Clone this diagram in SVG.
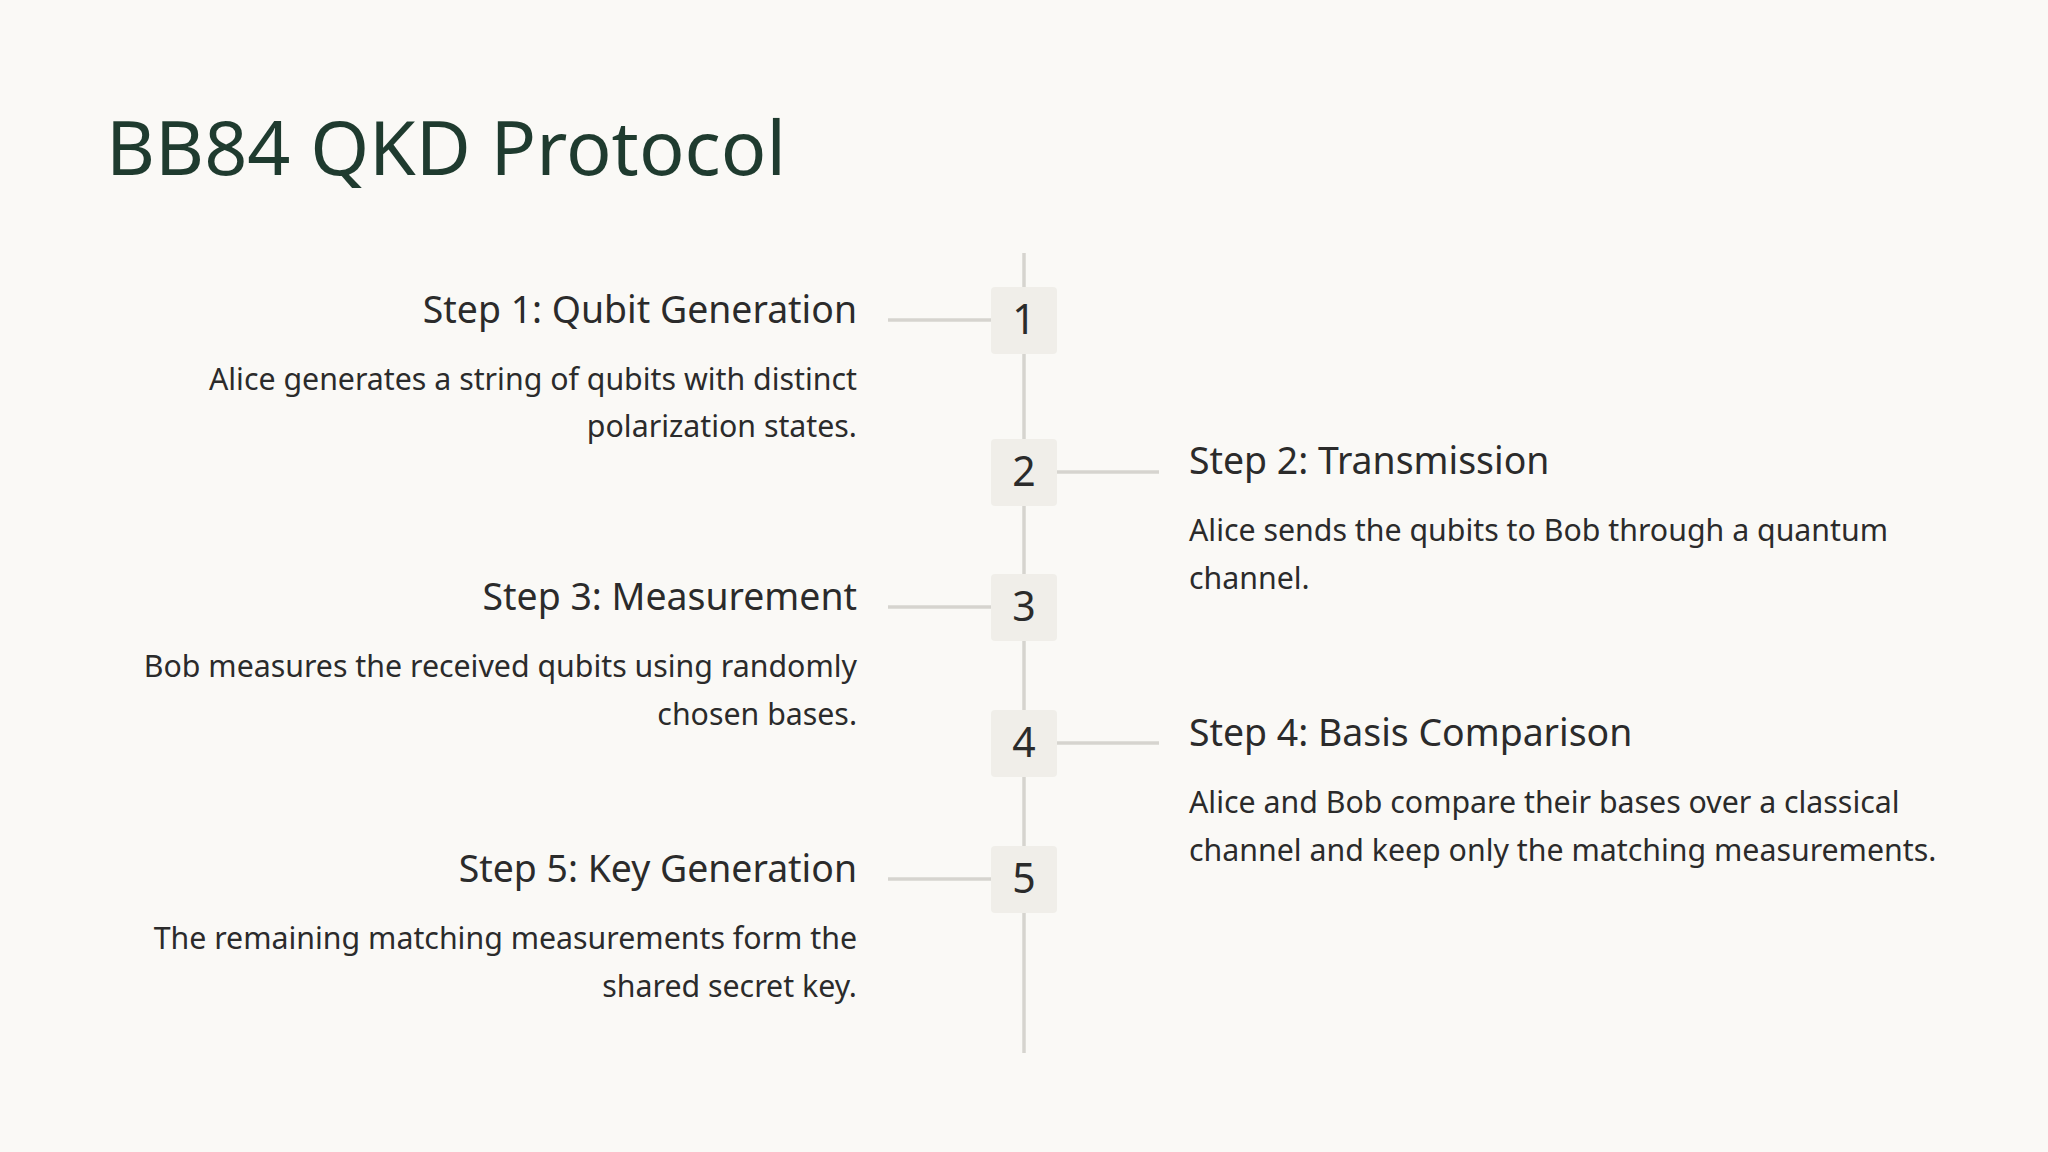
<svg xmlns="http://www.w3.org/2000/svg" width="2048" height="1152" viewBox="0 0 2048 1152">
  <style>
    .title { font-family: "Noto Sans", "Open Sans", sans-serif; font-size: 75.5px; fill: #1f3b2f; }
    .head { font-family: "Noto Sans", "Open Sans", sans-serif; font-size: 37.4px; fill: #2b2b2b; }
    .body { font-family: "Noto Sans", "Open Sans", sans-serif; font-size: 30.3px; fill: #2b2b2b; }
    .num { font-family: "Noto Sans", "Open Sans", sans-serif; font-size: 41px; fill: #2b2b2b; text-anchor: middle; }
    .box { fill: #f0eee9; }
    .conn { stroke: #d6d4cf; stroke-width: 3.5; fill: none; }
    .l { text-anchor: end; }
  </style>
  <rect width="2048" height="1152" fill="#faf9f6"/>
  <text class="title" x="106" y="175">BB84 QKD Protocol</text>

  <g id="connectors">
    <line class="conn" x1="1024" y1="253" x2="1024" y2="1053"/>
    <line class="conn" x1="888" y1="320" x2="991" y2="320"/>
    <line class="conn" x1="1057" y1="472" x2="1159" y2="472"/>
    <line class="conn" x1="888" y1="607" x2="991" y2="607"/>
    <line class="conn" x1="1057" y1="743" x2="1159" y2="743"/>
    <line class="conn" x1="888" y1="879" x2="991" y2="879"/>
  </g>

  <g id="step1">
    <rect class="box" x="991" y="287" width="66" height="67" rx="4"/>
    <text class="num" x="1024" y="334">1</text>
    <text class="head l" x="857" y="323">Step 1: Qubit Generation</text>
    <text class="body l" x="857" y="390">Alice generates a string of qubits with distinct</text>
    <text class="body l" x="857" y="437">polarization states.</text>
  </g>

  <g id="step2">
    <rect class="box" x="991" y="439" width="66" height="67" rx="4"/>
    <text class="num" x="1024" y="486">2</text>
    <text class="head" x="1189" y="474">Step 2: Transmission</text>
    <text class="body" x="1189" y="541">Alice sends the qubits to Bob through a quantum</text>
    <text class="body" x="1189" y="589">channel.</text>
  </g>

  <g id="step3">
    <rect class="box" x="991" y="574" width="66" height="67" rx="4"/>
    <text class="num" x="1024" y="621">3</text>
    <text class="head l" x="857" y="610">Step 3: Measurement</text>
    <text class="body l" x="857" y="677">Bob measures the received qubits using randomly</text>
    <text class="body l" x="857" y="725">chosen bases.</text>
  </g>

  <g id="step4">
    <rect class="box" x="991" y="710" width="66" height="67" rx="4"/>
    <text class="num" x="1024" y="757">4</text>
    <text class="head" x="1189" y="746">Step 4: Basis Comparison</text>
    <text class="body" x="1189" y="813">Alice and Bob compare their bases over a classical</text>
    <text class="body" x="1189" y="861">channel and keep only the matching measurements.</text>
  </g>

  <g id="step5">
    <rect class="box" x="991" y="846" width="66" height="67" rx="4"/>
    <text class="num" x="1024" y="893">5</text>
    <text class="head l" x="857" y="882">Step 5: Key Generation</text>
    <text class="body l" x="857" y="949">The remaining matching measurements form the</text>
    <text class="body l" x="857" y="997">shared secret key.</text>
  </g>
</svg>
